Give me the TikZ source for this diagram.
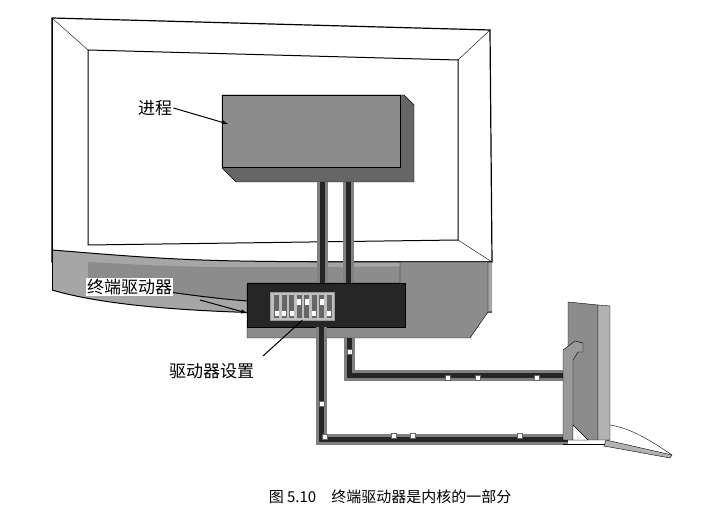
\documentclass[tikz,border=0pt]{standalone}
\usepackage{fontspec}
\newfontfamily\cjk{Noto Sans CJK SC}
\begin{document}
\begin{tikzpicture}[x=1pt,y=-1pt,
  lbl/.style={font=\cjk\fontsize{17}{19}\selectfont, inner sep=1pt},
  pipeout/.style={draw=black!50, line width=11pt},
  pipein/.style={draw=black!85, line width=5pt},
  dot/.style={fill=white, draw=black!60, minimum size=5pt, inner sep=0pt, rectangle},
  arr/.style={-latex, line width=1pt}]
\useasboundingbox (0,0) rectangle (707,526);
% monitor frame
\draw[line width=1.2pt, fill=white] (52,18) -- (490,30) -- (492,262) -- (52,262) -- cycle;
\draw[line width=1pt] (88,50) -- (458,60) -- (458,240) -- (88,245) -- cycle;
\draw (52,18) -- (88,50) (490,30) -- (458,60) (492,262) -- (458,240);
% tray band
\fill[black!35] (52,250) .. controls (200,262) .. (492,262) -- (492,312) .. controls (250,318) and (120,310) .. (52,290) -- cycle;
\fill[black!45] (88,262) .. controls (200,268) .. (458,266) -- (458,300) .. controls (260,306) .. (88,280) -- cycle;
\draw[line width=1pt] (52,250) .. controls (200,262) .. (492,262);
\draw[line width=1pt] (88,280) .. controls (260,306) .. (458,300);
\draw[line width=1pt] (52,290) .. controls (120,310) and (250,318) .. (492,312);
\draw (52,18) -- (52,290);
% gray base block behind driver
\fill[black!45, draw=black] (400,262) -- (488,262) -- (488,312) -- (470,338) -- (247,338) -- (247,283) -- (400,283) -- cycle;
% process box
\fill[black!60, draw=black] (222,95) -- (404,95) -- (414,105) -- (414,182) -- (236,182) -- (222,168) -- cycle;
\node[draw=black, fill=black!45, minimum width=178pt, minimum height=72pt, anchor=north west, inner sep=0pt] (proc) at (222,95) {};
% vertical pipes
\draw[pipeout] (322,182) -- (322,283);
\draw[pipein] (322,182) -- (322,283);
\draw[pipeout] (348,182) -- (348,283);
\draw[pipein] (348,182) -- (348,283);
% driver box
\node[draw=black, fill=black!85, minimum width=158pt, minimum height=44pt, anchor=north west, inner sep=0pt] (drv) at (247,283) {};
\node[draw=black!40, fill=black!25, minimum width=64pt, minimum height=28pt, anchor=north west, inner sep=0pt] (dip) at (270,292) {};
\foreach \i/\u in {0/0,1/0,2/0,3/1,4/1,5/0,6/1,7/0}{
  \fill[black!60] (274+\i*7.5,295) rectangle (279+\i*7.5,318);
  \ifnum\u=1 \fill[white] (274.5+\i*7.5,299) rectangle (278.5+\i*7.5,305);
  \else \fill[white] (274.5+\i*7.5,311) rectangle (278.5+\i*7.5,316); \fi
}
% cables
\coordinate (c1a) at (321,327); \coordinate (c1b) at (321,440); \coordinate (c1c) at (568,440);
\coordinate (c2a) at (349,338); \coordinate (c2b) at (349,376); \coordinate (c2c) at (568,376);
\draw[pipeout] (c1a) -- (c1b) -- (c1c);
\draw[pipein] (c1a) -- (c1b) -- (c1c);
\draw[pipeout] (c2a) -- (c2b) -- (c2c);
\draw[pipein] (c2a) -- (c2b) -- (c2c);
\foreach \p in {(322,404),(325,437),(394,436),(413,436),(520,436),(350,352),(448,378),(478,378),(537,378)}
  \node[dot] at \p {};
% printer
\fill[black!45, draw=black] (568,302) -- (598,305) -- (598,440) -- (568,440) -- cycle;
\fill[black!30, draw=black] (598,305) -- (610,306) -- (610,440) -- (598,440) -- cycle;
\fill[black!40, draw=black] (563,350) -- (575,341) -- (583,343) -- (583,352) -- (578,352) -- (573,360) -- (573,440) -- (563,440) -- cycle;
\fill[white, draw=black] (573,425) -- (588,440) -- (573,440) -- cycle;
\draw[line width=1pt] (563,445) -- (608,445);
\draw (610,425) .. controls (630,428) and (650,440) .. (672,455);
\fill[black!30, draw=black] (606,440) -- (672,455) -- (670,458) -- (604,446) -- cycle;
% labels
\node[lbl, anchor=west] (lp) at (137,108) {进程};
\draw[arr] (lp.east) -- (228,124);
\node[lbl, fill=white, anchor=west] (ld) at (86,287) {终端驱动器};
\draw[arr] (200,300) -- (drv.west |- 0,313);
\node[lbl, anchor=west] (ls) at (168,371) {驱动器设置};
\draw[line width=1pt] (263,356) -- (dip.south);
\node[font=\cjk\fontsize{15}{17}\selectfont] (cap) at (390,497) {图 5.10\quad 终端驱动器是内核的一部分};
\end{tikzpicture}
\end{document}
